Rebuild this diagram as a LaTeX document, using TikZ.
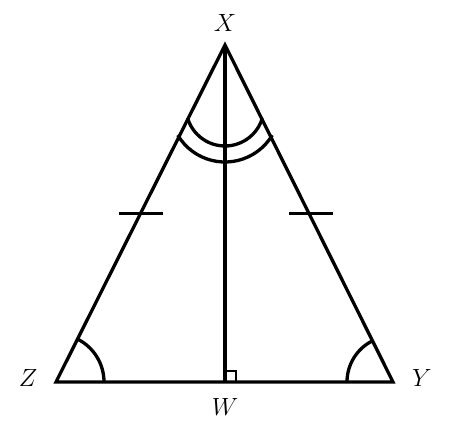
\documentclass[tikz,border=0pt]{standalone}
\usetikzlibrary{calc}
\begin{document}
\begin{tikzpicture}[x=1pt,y=-1pt,
  edge/.style={line width=3.3pt},
  thinmark/.style={line width=2.4pt},
  lbl/.style={font=\fontsize{29}{32}\selectfont, inner sep=0pt}]
\useasboundingbox (0,0) rectangle (450,430);
\coordinate (X) at (225,45);
\coordinate (Z) at (56,382);
\coordinate (Y) at (393,382);
\coordinate (W) at (225,382);
\coordinate (Ci) at (225,107);
\coordinate (Mzx) at ($(Z)!0.5!(X)$);
\coordinate (Myx) at ($(Y)!0.5!(X)$);
% triangle and altitude
\draw[edge, line join=miter] (Z) -- (X) -- (Y) -- cycle;
\draw[edge] (X) -- (W);
% apex angle arcs
\draw[edge] (Ci) ++(163.4:39) arc[start angle=163.4, end angle=16.6, radius=39];
\draw[edge] (Ci) ++(149.2:55) arc[start angle=149.2, end angle=30.8, radius=55];
% base angle arcs
\draw[edge] (Z) ++(0:48) arc[start angle=0, end angle=-63.4, radius=48];
\draw[edge] (Y) ++(180:46) arc[start angle=180, end angle=243.5, radius=46];
% tick marks
\draw[edge] ($(Mzx)+(-22,0)$) -- ($(Mzx)+(22,0)$);
\draw[edge] ($(Myx)+(-20,0)$) -- ($(Myx)+(24,0)$);
% right angle
\draw[thinmark] (W) rectangle ($(W)+(11,-11)$);
% labels
\node[lbl] (lX) at (225,23) {$X$};
\node[lbl] (lZ) at (28,378) {$Z$};
\node[lbl] (lY) at (422,378) {$Y$};
\node[lbl] (lW) at (225,407) {$W$};
\end{tikzpicture}
\end{document}
